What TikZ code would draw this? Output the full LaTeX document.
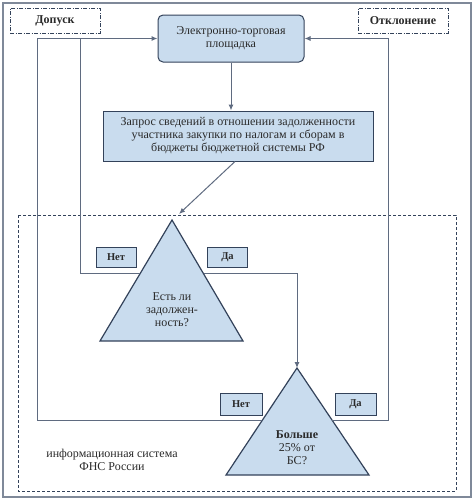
\documentclass[tikz,border=0pt]{standalone}
\usepackage{fontspec}
\setmainfont{Liberation Serif}
\usetikzlibrary{arrows.meta, calc, positioning}
\definecolor{boxfill}{HTML}{C9DCEE}
\definecolor{boxline}{HTML}{33425A}
\definecolor{wire}{HTML}{5F6B80}
\definecolor{txt}{HTML}{2A2A2A}
\tikzstyle{block} = [rectangle, draw=boxline, line width=1pt, fill=boxfill, text=txt, align=center, inner sep=0pt]
\tikzstyle{label} = [block, minimum width=40pt, minimum height=20pt, font=\bfseries\fontsize{10.5}{12}\selectfont]
\tikzstyle{outcome} = [rectangle, draw=boxline, line width=1pt, dash pattern=on 4pt off 1.5pt on 1pt off 1.5pt, minimum width=90pt, minimum height=25pt, text=txt, font=\bfseries\fontsize{12}{13}\selectfont]
\tikzstyle{decision} = [draw=boxline, line width=1.2pt, fill=boxfill]
\tikzstyle{wire} = [draw=wire, line width=1pt]
\tikzstyle{arrow} = [wire, -{Latex[length=6pt,width=5pt]}]

\begin{document}
\begin{tikzpicture}[x=1pt, y=-1pt, font=\fontsize{12}{13}\selectfont]
		\useasboundingbox (0,0) rectangle (474,501);
		\draw[wire, line width=2pt, draw=wire!80] (3,3) rectangle (471,497);
		
		\node (Admit) [outcome] at (55,20.5) {Допуск};
		\node (Reject) [outcome] at (403,20.5) {Отклонение};
		\node (Platform) [block, rounded corners=5pt, minimum width=146pt, minimum height=47pt] at (231,38.5) {Электронно-торговая\\площадка};
		\node (Request) [block, minimum width=270pt, minimum height=50pt] at (238,136) {Запрос сведений в отношении задолженности\\участника закупки по налогам и сборам в\\бюджеты бюджетной системы РФ};
		
		% FNS system
		\draw[draw=boxline, line width=1pt, dash pattern=on 3pt off 2pt] (18,215) rectangle (456,491);
		\node (FNS) [text=txt, align=center] at (112,460) {информационная система\\ФНС России};
		
		% first decision
		\coordinate (DebtTop) at (172,220);
		\coordinate (DebtLeft) at (100,341);
		\coordinate (DebtRight) at (243,341);
		\draw[decision] (DebtTop) -- (DebtLeft) -- (DebtRight) -- cycle;
		\node (Debt) [text=txt, align=center] at (172,310) {Есть ли\\задолжен-\\ность?};
		\coordinate (DebtNo) at ($(DebtTop)!0.446!(DebtLeft)$);
		\coordinate (DebtYes) at ($(DebtTop)!0.446!(DebtRight)$);
		\node (No1) [label] at (116,257) {Нет};
		\node (Yes1) [label] at (227.5,257) {Да};
		
		% second decision
		\coordinate (ShareTop) at (297,368);
		\coordinate (ShareLeft) at (226,475);
		\coordinate (ShareRight) at (369,475);
		\draw[decision] (ShareTop) -- (ShareLeft) -- (ShareRight) -- cycle;
		\node (Share) [text=txt, align=center] at (297,448) {\textbf{Больше}\\25\% от\\БС?};
		\coordinate (ShareNo) at ($(ShareTop)!0.486!(ShareLeft)$);
		\coordinate (ShareYes) at ($(ShareTop)!0.486!(ShareRight)$);
		\node (No2) [label, minimum width=42pt, minimum height=22pt] at (241,404) {Нет};
		\node (Yes2) [label, minimum width=41pt, minimum height=22pt] at (355.5,404) {Да};
		
		\draw [arrow] (Platform.south) -- (Platform.south |- Request.north);
		\draw [arrow] ($(Request.south)+(-3,0)$) -- ($(DebtTop)+(7,-6)$);
		\draw [arrow] (ShareNo) -| (37,38.5) -- (Platform.west);
		\draw [wire] (DebtNo) -| (80,38.5);
		\draw [arrow] (ShareYes) -| (388,38.5) -- (Platform.east);
		\draw [arrow] (DebtYes) -| (ShareTop);
\end{tikzpicture}
\end{document}
